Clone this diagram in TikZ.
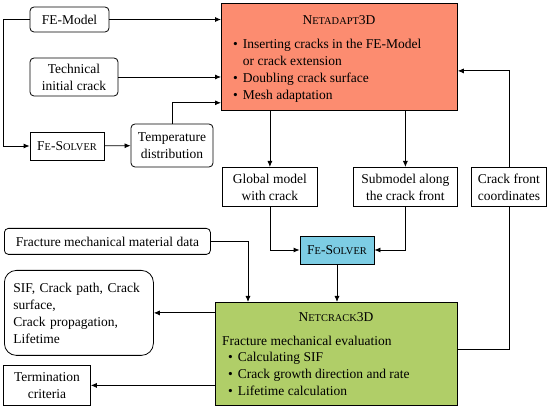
\documentclass[tikz,border=0pt]{standalone}
\usepackage{fontspec}
\setmainfont{Liberation Serif}
\usetikzlibrary{arrows.meta}
\definecolor{adaptcol}{RGB}{252,140,112}
\definecolor{solvercol}{RGB}{125,205,228}
\definecolor{crackcol}{RGB}{176,206,104}
\newcommand\smcp[1]{{\fontsize{10.4}{10.4}\selectfont #1}}
\begin{document}
\begin{tikzpicture}[ x=1pt, y=-1pt,
  font=\fontsize{13.5}{17}\selectfont,
  box/.style={draw, line width=0.8pt, align=center, inner sep=0pt},
  rbox/.style={box, rounded corners=4pt},
  arr/.style={line width=0.8pt, -{Latex[length=6pt,width=5pt]}},
  line/.style={line width=0.8pt},
]
\useasboundingbox (0,0) rectangle (550,409);

\node[rbox, minimum width=79pt, minimum height=25pt] (femodel) at (69.5,19.5) {FE-Model};
\node[rbox, minimum width=88pt, minimum height=38pt] (techcrack) at (74,77) {Technical\\initial crack};
\node[box, minimum width=74pt, minimum height=28pt] (solverleft) at (67,146) {F\smcp{E}-S\smcp{OLVER}};
\node[rbox, minimum width=82pt, minimum height=43pt] (tempdist) at (172,145.5) {Temperature\\distribution};

\node[box, fill=adaptcol, minimum width=236pt, minimum height=107pt, anchor=north west] (adapt) at (221,3) {};
\node (adapttitle) at (339,20) {N\smcp{ETADAPT}3D};
\node[inner sep=0pt, anchor=base west] (adaptlist) at (233,49) {\begin{tabular}[t]{@{}l@{\hspace{5pt}}l@{}}
\textbullet & Inserting cracks in the FE-Model\\
 & or crack extension\\
\textbullet & Doubling crack surface\\
\textbullet & Mesh adaptation
\end{tabular}};

\node[box, minimum width=95pt, minimum height=39pt, anchor=north west] (globalmodel) at (222,167) {Global model\\with crack};
\node[box, minimum width=104pt, minimum height=39pt, anchor=north west] (submodel) at (353,167) {Submodel along\\the crack front};
\node[box, minimum width=75pt, minimum height=39pt, anchor=north west] (crackfront) at (471,167) {Crack front\\coordinates};

\node[box, fill=solvercol, minimum width=74pt, minimum height=28pt] (solver) at (337,250) {F\smcp{E}-S\smcp{OLVER}};

\node[rbox, minimum width=206pt, minimum height=26pt, anchor=north west] (matdata) at (4,228) {Fracture mechanical material data};
\node[box, rounded corners=12pt, minimum width=149pt, minimum height=85pt, anchor=north west,
  text width=131pt, inner xsep=9pt, align=left] (results) at (4,270) {SIF, Crack path, Crack\\surface,\\Crack propagation,\\Lifetime};
\node[box, minimum width=87pt, minimum height=40pt, anchor=north west] (termination) at (3,365) {Termination\\criteria};

\node[box, fill=crackcol, minimum width=242pt, minimum height=103pt, anchor=north west] (netcrack) at (215,302) {};
\node (cracktitle) at (336,317) {N\smcp{ETCRACK}3D};
\node[inner sep=0pt, anchor=base west] (cracklist) at (222,346) {\begin{tabular}[t]{@{}l@{\hspace{5pt}}l@{}}
\multicolumn{2}{@{}l@{}}{Fracture mechanical evaluation}\\[-1pt]
\hspace{6pt}\textbullet & Calculating SIF\\
\hspace{6pt}\textbullet & Crack growth direction and rate\\
\hspace{6pt}\textbullet & Lifetime calculation
\end{tabular}};

% inputs of Netadapt3D
\draw[arr] (femodel.west) -- ++(-26,0) |- (solverleft.west);
\draw[arr] (femodel) -- (femodel -| adapt.west);
\draw[arr] (techcrack) -- (techcrack -| adapt.west);
\draw[arr] (solverleft) -- (tempdist);
\draw[arr] (tempdist.north) |- ([yshift=8pt]adapt.south west);

% Netadapt3D to solver
\draw[arr] (adapt.south -| globalmodel) -- (globalmodel);
\draw[arr] (adapt.south -| submodel) -- (submodel);
\draw[arr] (globalmodel.south) |- (solver.west);
\draw[arr] (submodel.south) |- (solver.east);
\draw[arr] (solver) -- (solver |- netcrack.north);

% loop back
\draw[line] ([yshift=4pt]netcrack.east) -| (crackfront.south);
\draw[arr] (crackfront.north) |- ([yshift=-14pt]adapt.east);

% Netcrack3D
\draw[arr] (matdata.east) -| ([xshift=33pt]netcrack.north west);
\draw[arr] (netcrack.west |- results) -- (results.east);
\draw[arr] (netcrack.west |- termination) -- (termination.east);

\end{tikzpicture}
\end{document}
